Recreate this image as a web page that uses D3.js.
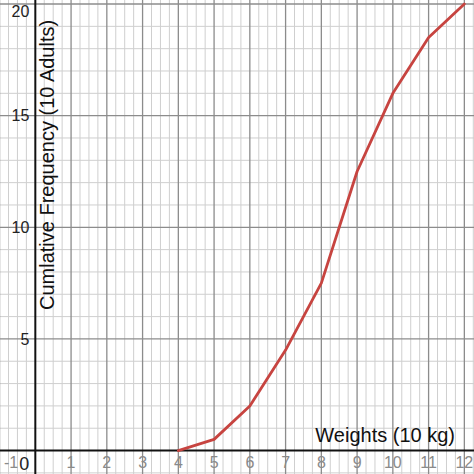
<!DOCTYPE html>
<html lang="en">
<head>
    <meta charset="UTF-8">
    <title>Cumulative Frequency of Weights</title>
    <script src="https://d3js.org/d3.v7.min.js"></script>
    <style>
        body {
            margin: 0;
            background-color: white;
            font-family: "Liberation Sans", Arial, sans-serif;
        }
        .minor { stroke: #cfcfcf; stroke-width: 1; }
        .major { stroke: #8c8c8c; stroke-width: 1.3; }
        .axis-line { stroke: #111; stroke-width: 2; }
        .tick-label { font-size: 16px; }
        .title { font-size: 20px; fill: #111; }
    </style>
</head>
<body>
    <div id="chart"></div>
    <script>
        // Data
        const weights = [4, 5, 6, 7, 8, 9, 10, 11, 12];
        const cumFreq = [0, 0.5, 2, 4.5, 7.5, 12.5, 16, 18.5, 20];

        // Tick labels
        const xTicks = [-1, 0, 1, 2, 3, 4, 5, 6, 7, 8, 9, 10, 11, 12];
        const yTicks = [5, 10, 15, 20];

        const width = 474;
        const height = 474;

        const svg = d3.select("#chart")
            .append("svg")
            .attr("width", width)
            .attr("height", height);

        // Scales: origin near (35, 450)
        const x = d3.scaleLinear().domain([-0.988, 12.27]).range([0, width]);
        const y = d3.scaleLinear().domain([-1.05, 20.18]).range([height, 0]);

        // Grid lines
        const xMinor = d3.range(-4, 50).map(i => i / 4).filter(v => !Number.isInteger(v));
        const xMajor = d3.range(-1, 13);
        const yMinor = d3.range(-1, 21).filter(v => v % 5 !== 0);
        const yMajor = [0, 5, 10, 15, 20];

        const grid = svg.append("g");
        grid.selectAll(".vx-minor").data(xMinor).enter().append("line")
            .attr("class", "minor")
            .attr("x1", d => x(d)).attr("x2", d => x(d))
            .attr("y1", 0).attr("y2", height);
        grid.selectAll(".hy-minor").data(yMinor).enter().append("line")
            .attr("class", "minor")
            .attr("y1", d => y(d)).attr("y2", d => y(d))
            .attr("x1", 0).attr("x2", width);
        grid.selectAll(".vx-major").data(xMajor.filter(v => v !== 0)).enter().append("line")
            .attr("class", "major")
            .attr("x1", d => x(d)).attr("x2", d => x(d))
            .attr("y1", 0).attr("y2", height);
        grid.selectAll(".hy-major").data(yMajor.filter(v => v !== 0)).enter().append("line")
            .attr("class", "major")
            .attr("y1", d => y(d)).attr("y2", d => y(d))
            .attr("x1", 0).attr("x2", width);

        // Axes
        svg.append("line").attr("class", "axis-line")
            .attr("x1", 0).attr("x2", width)
            .attr("y1", y(0)).attr("y2", y(0));
        svg.append("line").attr("class", "axis-line")
            .attr("x1", x(0)).attr("x2", x(0))
            .attr("y1", 0).attr("y2", height);

        // X tick labels (kept on screen near the edges)
        svg.selectAll(".x-label").data(xTicks).enter().append("text")
            .attr("class", "tick-label")
            .attr("x", d => d === 0 ? x(0) - 6 : Math.max(x(d), 11))
            .attr("y", d => d === 0 ? y(0) + 19.5 : y(0) + 17)
            .attr("text-anchor", d => d === 0 ? "end" : "middle")
            .attr("fill", d => d === 0 ? "#222" : "#8a8a8a")
            .style("font-size", d => d === 0 ? "18px" : null)
            .text(d => d);

        // Y tick labels
        svg.selectAll(".y-label").data(yTicks).enter().append("text")
            .attr("class", "tick-label")
            .attr("x", x(0) - 6)
            .attr("y", d => Math.max(y(d), 11))
            .attr("dy", "0.35em")
            .attr("text-anchor", "end")
            .attr("fill", "#222")
            .text(d => d);

        // Axis titles
        svg.append("text")
            .attr("class", "title")
            .attr("x", 455)
            .attr("y", y(0) - 9)
            .attr("text-anchor", "end")
            .text("Weights (10 kg)");

        svg.append("text")
            .attr("class", "title")
            .attr("transform", `translate(${x(0) + 19},310) rotate(-90)`)
            .attr("text-anchor", "start")
            .text("Cumlative Frequency (10 Adults)");

        // Cumulative frequency curve
        const points = weights.map((w, i) => [w, cumFreq[i]]);
        const line = d3.line()
            .x(d => x(d[0]))
            .y(d => y(d[1]));

        svg.append("path")
            .datum(points)
            .attr("d", line)
            .attr("fill", "none")
            .attr("stroke", "#c74440")
            .attr("stroke-width", 2.8)
            .attr("stroke-linejoin", "round")
            .attr("stroke-linecap", "round");
    </script>
</body>
</html>
